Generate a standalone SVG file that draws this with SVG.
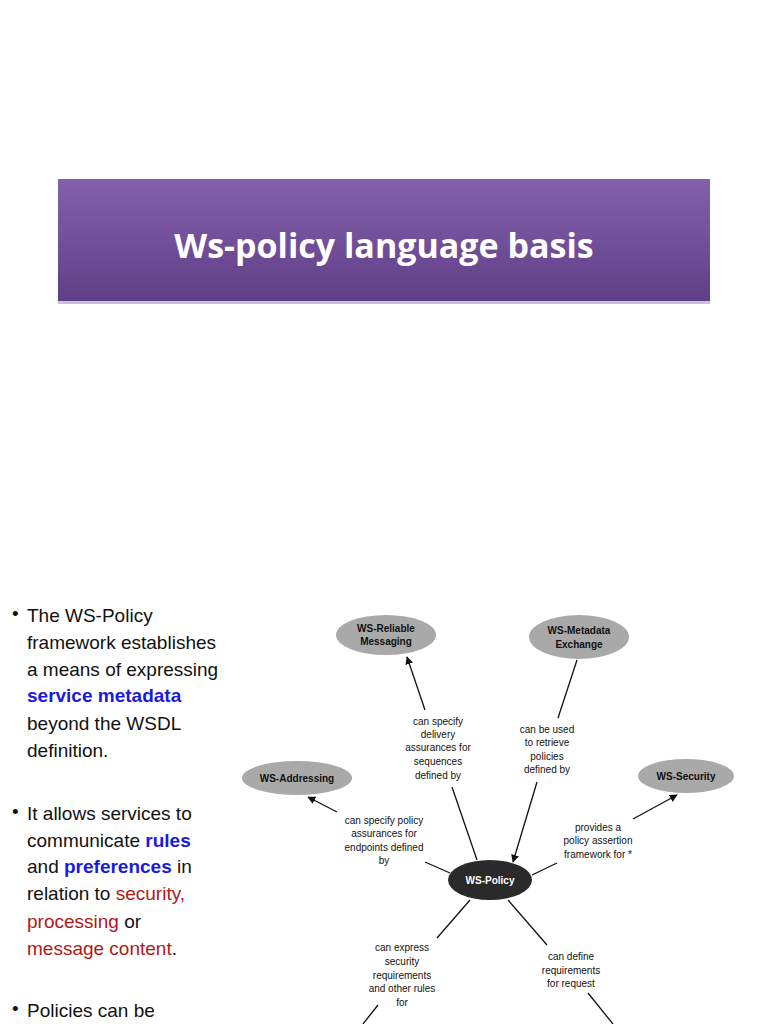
<svg xmlns="http://www.w3.org/2000/svg" width="768" height="1024" viewBox="0 0 768 1024">
<defs>
<linearGradient id="g" x1="0" y1="0" x2="0" y2="1"><stop offset="0" stop-color="#8460ab"/><stop offset="1" stop-color="#5f3f87"/></linearGradient>
<marker id="a" viewBox="0 0 10 10" refX="9" refY="5" markerWidth="8" markerHeight="8" orient="auto" markerUnits="userSpaceOnUse"><path d="M0,0 L10,5 L0,10 z" fill="#111"/></marker>
</defs>
<style>
.b{font-family:"Liberation Sans",Arial,sans-serif;font-size:19px;fill:#111}
.blue{fill:#1a1adc;font-weight:bold}
.red{fill:#b01818}
.n{fill:#a9a9a9}
.nt{font-family:"Liberation Sans",Arial,sans-serif;font-size:10px;fill:#111;text-anchor:middle;font-weight:bold}
.l{font-family:"Liberation Sans",Arial,sans-serif;font-size:10px;fill:#111;text-anchor:middle}
.c{stroke:#111;stroke-width:1.3;fill:none}
</style>
<rect width="768" height="1024" fill="#fff"/>
<rect x="58" y="179" width="652" height="124" fill="url(#g)"/>
<rect x="58" y="301" width="652" height="3" fill="#c9c2d6"/>
<text x="384" y="258" text-anchor="middle" font-family="'Open Sans','Liberation Sans',sans-serif" font-weight="bold" font-size="34" fill="#fff">Ws-policy language basis</text>

<g id="text" class="b">
<text x="12" y="620">•</text>
<text x="27" y="622">The WS-Policy</text>
<text x="27" y="649">framework establishes</text>
<text x="27" y="676">a means of expressing</text>
<text x="27" y="702" class="b blue">service metadata</text>
<text x="27" y="730">beyond the WSDL</text>
<text x="27" y="757">definition.</text>
<text x="12" y="818">•</text>
<text x="27" y="820">It allows services to</text>
<text x="27" y="847">communicate <tspan class="blue">rules</tspan></text>
<text x="27" y="873">and <tspan class="blue">preferences</tspan>  in</text>
<text x="27" y="900">relation  to  <tspan class="red">security,</tspan></text>
<text x="27" y="928"><tspan class="red">processing</tspan>  or</text>
<text x="27" y="955"><tspan class="red">message  content</tspan>.</text>
<text x="12" y="1015">•</text>
<text x="27" y="1017">Policies can  be</text>
</g>

<g id="connectors">
<line class="c" x1="425" y1="710" x2="407" y2="657" marker-end="url(#a)"/>
<line class="c" x1="452" y1="787" x2="477" y2="860"/>
<line class="c" x1="577" y1="660" x2="558" y2="718"/>
<line class="c" x1="537" y1="782" x2="513" y2="862" marker-end="url(#a)"/>
<line class="c" x1="337" y1="812" x2="308" y2="797" marker-end="url(#a)"/>
<line class="c" x1="425" y1="862" x2="450" y2="873"/>
<line class="c" x1="532" y1="875" x2="557" y2="863"/>
<line class="c" x1="633" y1="819" x2="677" y2="795" marker-end="url(#a)"/>
<line class="c" x1="470" y1="900" x2="437" y2="938"/>
<line class="c" x1="378" y1="1005" x2="363" y2="1024"/>
<line class="c" x1="508" y1="900" x2="547" y2="945"/>
<line class="c" x1="588" y1="993" x2="613" y2="1024"/>
</g>

<g id="n-reliable"><ellipse class="n" cx="386" cy="635" rx="50" ry="20"/><text class="nt" x="386" y="632">WS-Reliable</text><text class="nt" x="386" y="645">Messaging</text></g>
<g id="n-metadata"><ellipse class="n" cx="579" cy="637" rx="50" ry="22"/><text class="nt" x="579" y="634">WS-Metadata</text><text class="nt" x="579" y="648">Exchange</text></g>
<g id="n-addressing"><ellipse class="n" cx="297" cy="778" rx="55" ry="17"/><text class="nt" x="297" y="782">WS-Addressing</text></g>
<g id="n-security"><ellipse class="n" cx="686" cy="776" rx="48" ry="17"/><text class="nt" x="686" y="780">WS-Security</text></g>
<g id="n-policy"><ellipse cx="490" cy="880" rx="42" ry="20" fill="#2a2a2a"/><text class="nt" x="490" y="884" style="fill:#fff">WS-Policy</text></g>

<g id="labels" class="l">
<text x="438" y="725">can specify</text><text x="438" y="738">delivery</text><text x="438" y="751">assurances for</text><text x="438" y="765">sequences</text><text x="438" y="779">defined by</text>
<text x="547" y="733">can be used</text><text x="547" y="746">to retrieve</text><text x="547" y="760">policies</text><text x="547" y="773">defined by</text>
<text x="384" y="824">can specify policy</text><text x="384" y="837">assurances for</text><text x="384" y="851">endpoints defined</text><text x="384" y="864">by</text>
<text x="598" y="831">provides a</text><text x="598" y="844">policy assertion</text><text x="598" y="858">framework for *</text>
<text x="402" y="951">can express</text><text x="402" y="965">security</text><text x="402" y="979">requirements</text><text x="402" y="992">and other rules</text><text x="402" y="1006">for</text>
<text x="571" y="960">can define</text><text x="571" y="974">requirements</text><text x="571" y="987">for request</text>
</g>
</svg>
